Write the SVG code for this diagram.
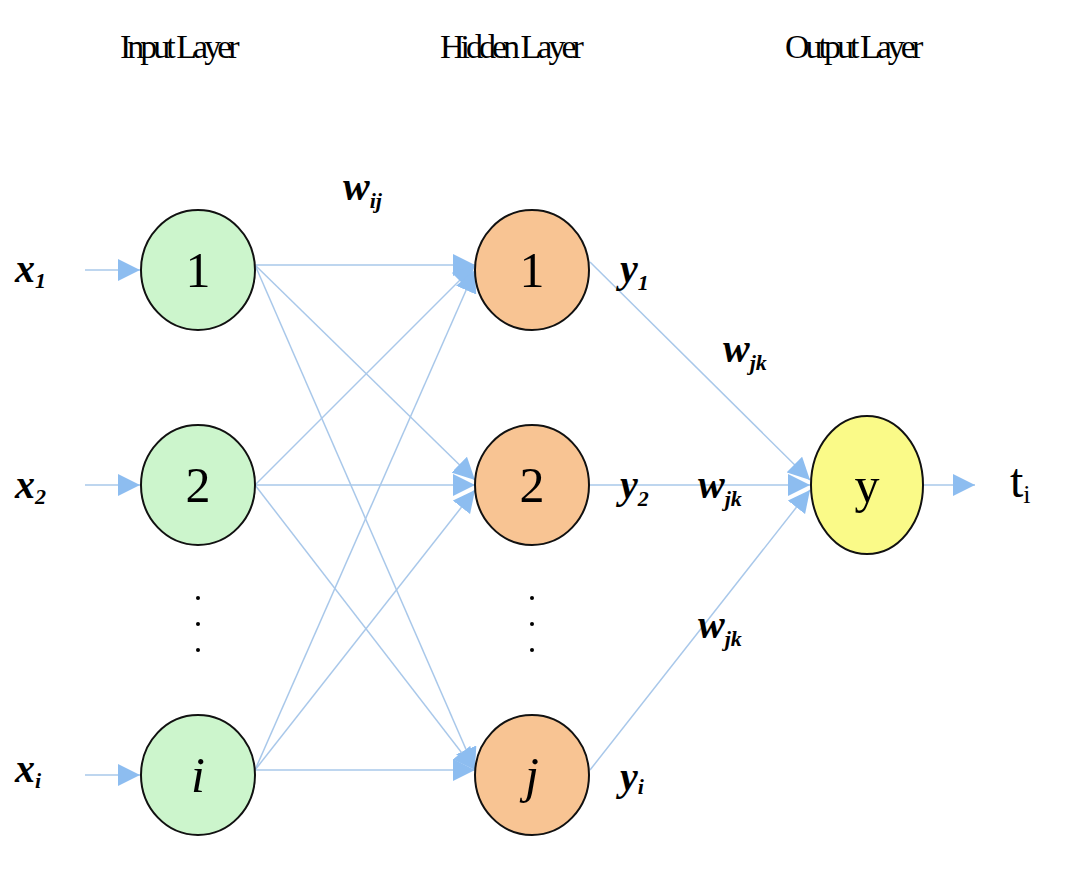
<svg xmlns="http://www.w3.org/2000/svg" width="1091" height="869" viewBox="0 0 1091 869">
<style>
.t{font-family:"Liberation Serif",serif;fill:#000}
.h{font-size:34px;letter-spacing:-4px}
.n{font-size:50px;text-anchor:middle}
.v{font-size:40px;font-style:italic;font-weight:bold}
.s{font-size:22px;font-style:italic;font-weight:bold}
.e{stroke:#111;stroke-width:2}
.c line{stroke:#a9c8ea;stroke-width:1.5}
</style>
<defs>
<marker id="b" viewBox="0 0 10 10" refX="10" refY="5" markerWidth="22" markerHeight="22" markerUnits="userSpaceOnUse" orient="auto"><path d="M0,0L10,5L0,10z" fill="#8dbdf0"/></marker>
</defs>
<rect width="1091" height="869" fill="#fff"/>
<text class="t h" x="120" y="58">Input Layer</text>
<text class="t h" x="440" y="58">Hidden Layer</text>
<text class="t h" x="785" y="58">Output Layer</text>
<g class="c">
<line x1="85" y1="270" x2="140" y2="270" marker-end="url(#b)"/>
<line x1="85" y1="485" x2="140" y2="485" marker-end="url(#b)"/>
<line x1="85" y1="775" x2="140" y2="775" marker-end="url(#b)"/>
<line x1="255" y1="265" x2="475" y2="265" marker-end="url(#b)"/>
<line x1="255" y1="265" x2="475" y2="480" marker-end="url(#b)"/>
<line x1="255" y1="265" x2="475" y2="770" marker-end="url(#b)"/>
<line x1="255" y1="485" x2="475" y2="265" marker-end="url(#b)"/>
<line x1="255" y1="485" x2="475" y2="485" marker-end="url(#b)"/>
<line x1="255" y1="485" x2="475" y2="770" marker-end="url(#b)"/>
<line x1="255" y1="770" x2="475" y2="270" marker-end="url(#b)"/>
<line x1="255" y1="770" x2="475" y2="490" marker-end="url(#b)"/>
<line x1="255" y1="770" x2="475" y2="770" marker-end="url(#b)"/>
<line x1="590" y1="262" x2="810" y2="480" marker-end="url(#b)"/>
<line x1="590" y1="485" x2="810" y2="485" marker-end="url(#b)"/>
<line x1="590" y1="770" x2="810" y2="490" marker-end="url(#b)"/>
<line x1="923" y1="485" x2="975" y2="485" marker-end="url(#b)"/>
</g>
<g id="in1"><ellipse class="e" cx="198" cy="270" rx="57" ry="60" fill="#ccf5cc"/><text class="t n" x="198" y="287">1</text></g>
<g id="in2"><ellipse class="e" cx="198" cy="485" rx="57" ry="60" fill="#ccf5cc"/><text class="t n" x="198" y="502">2</text></g>
<g id="ini"><ellipse class="e" cx="198" cy="775" rx="57" ry="60" fill="#ccf5cc"/><text class="t n" x="198" y="792" font-style="italic">i</text></g>
<g id="h1"><ellipse class="e" cx="532" cy="270" rx="57" ry="60" fill="#f8c493"/><text class="t n" x="532" y="287">1</text></g>
<g id="h2"><ellipse class="e" cx="532" cy="485" rx="57" ry="60" fill="#f8c493"/><text class="t n" x="532" y="502">2</text></g>
<g id="hj"><ellipse class="e" cx="532" cy="775" rx="57" ry="60" fill="#f8c493"/><text class="t n" x="532" y="792" font-style="italic">j</text></g>
<g id="out"><ellipse class="e" cx="867" cy="485" rx="56" ry="69" fill="#fafa88"/><text class="t n" x="867" y="502">y</text></g>
<g id="dots" fill="#000">
<circle cx="198" cy="598" r="2"/><circle cx="198" cy="624" r="2"/><circle cx="198" cy="650" r="2"/>
<circle cx="532" cy="598" r="2"/><circle cx="532" cy="624" r="2"/><circle cx="532" cy="650" r="2"/>
</g>
<g id="labels">
<text class="t v" x="15" y="282">x<tspan class="s" dy="6">1</tspan></text>
<text class="t v" x="15" y="498">x<tspan class="s" dy="6">2</tspan></text>
<text class="t v" x="15" y="782">x<tspan class="s" dy="6">i</tspan></text>
<text class="t v" x="343" y="200">w<tspan class="s" dy="8">ij</tspan></text>
<text class="t v" x="620" y="282">y<tspan class="s" dy="8">1</tspan></text>
<text class="t v" x="620" y="498">y<tspan class="s" dy="8">2</tspan></text>
<text class="t v" x="620" y="790">y<tspan class="s" dy="4">i</tspan></text>
<text class="t v" x="723" y="362">w<tspan class="s" dy="8">jk</tspan></text>
<text class="t v" x="698" y="498">w<tspan class="s" dy="8">jk</tspan></text>
<text class="t v" x="698" y="638">w<tspan class="s" dy="8">jk</tspan></text>
<text class="t" x="1010" y="497" font-size="48">t<tspan font-size="26" dy="6">i</tspan></text>
</g>
</svg>
